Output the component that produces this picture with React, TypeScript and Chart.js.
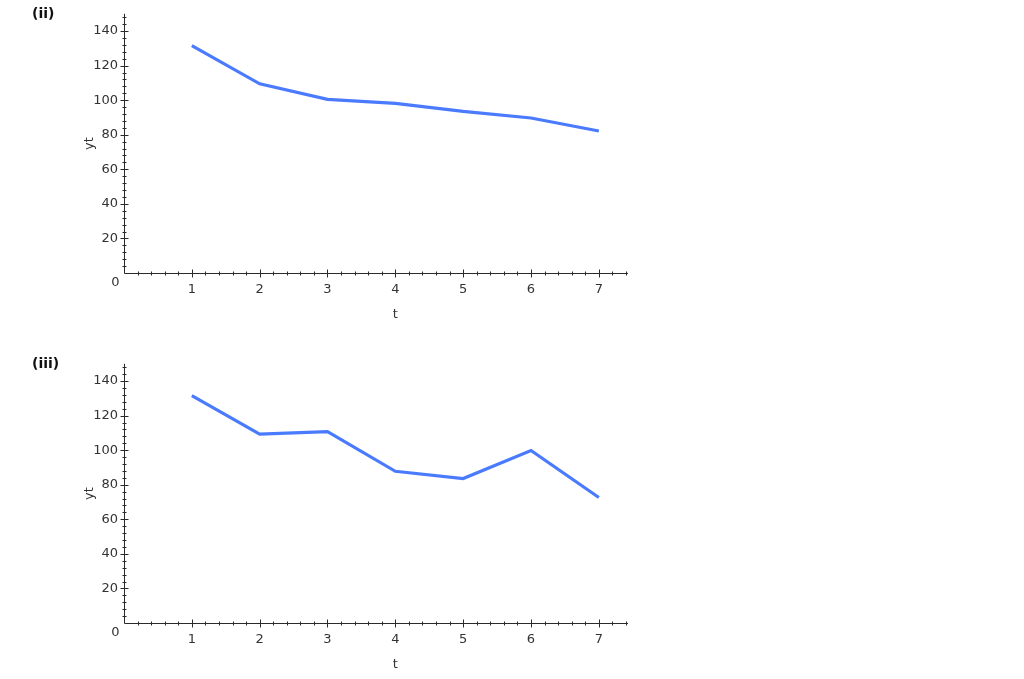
import React, { useEffect, useRef } from 'react';
import { Chart, registerables } from 'chart.js';

Chart.register(...registerables);

// ---- data ----
const tValues = [1, 2, 3, 4, 5, 6, 7];
const seriesII = [131.6, 109.5, 100.5, 98.2, 93.5, 89.7, 82.2];
const seriesIII = [131.6, 109.3, 110.8, 87.8, 83.6, 99.8, 72.6];
const xTickValues = [1, 2, 3, 4, 5, 6, 7];
const yTickValues = [20, 40, 60, 80, 100, 120, 140];
const panelLabels = ['(ii)', '(iii)'];
const xTitle = 't';
const yTitle = 'yt';
const X_MAX = 7.43;
const Y_MAX = 150;
const X_MINOR_STEP = 0.2;
const Y_MINOR_STEP = 4;

const FONT = '"DejaVu Sans", Verdana, sans-serif';
const AXIS_COLOR = '#2a2a2a';
const TEXT_COLOR = '#333333';
const LINE_COLOR = '#4a7bff';

const mapleAxes = {
  id: 'mapleAxes',
  afterDraw(chart: any) {
    const { ctx } = chart;
    const xs = chart.scales.x;
    const ys = chart.scales.y;
    const x0 = Math.round(xs.getPixelForValue(0)) + 0.5;
    const y0 = Math.round(ys.getPixelForValue(0)) + 0.5;
    const xEnd = xs.getPixelForValue(X_MAX);
    const yTop = ys.getPixelForValue(Y_MAX);
    ctx.save();
    ctx.strokeStyle = AXIS_COLOR;
    ctx.lineWidth = 1;
    const seg = (a: number, b: number, c: number, d: number) => {
      ctx.beginPath();
      ctx.moveTo(a, b);
      ctx.lineTo(c, d);
      ctx.stroke();
    };
    // axis lines
    seg(x0, y0, x0, yTop);
    seg(x0, y0, xEnd, y0);
    // y ticks
    for (let k = 1; k * Y_MINOR_STEP <= Y_MAX + 1e-9; k++) {
      const v = k * Y_MINOR_STEP;
      const py = Math.round(ys.getPixelForValue(v)) + 0.5;
      const major = yTickValues.includes(v);
      const h = major ? 4 : 2;
      seg(x0 - h, py, x0 + h, py);
    }
    // x ticks
    for (let k = 1; k * X_MINOR_STEP <= X_MAX + 1e-9; k++) {
      const v = Math.round(k * X_MINOR_STEP * 10) / 10;
      const px = Math.round(xs.getPixelForValue(v)) + 0.5;
      const major = xTickValues.includes(v);
      const h = major ? 4 : 2;
      seg(px, y0 - h, px, y0 + h);
    }
    // texts
    ctx.fillStyle = TEXT_COLOR;
    ctx.font = `13px ${FONT}`;
    ctx.textAlign = 'center';
    ctx.textBaseline = 'middle';
    ctx.fillText('0', x0 - 9, y0 + 9);
    ctx.fillText(xTitle, xs.getPixelForValue(4), y0 + 41);
    ctx.save();
    ctx.translate(x0 - 35, (y0 + yTop) / 2);
    ctx.rotate(-Math.PI / 2);
    ctx.fillText(yTitle, 0, 0);
    ctx.restore();
    ctx.restore();
  },
};

function Panel({ values, top, label }: { values: number[]; top: number; label: string }) {
  const ref = useRef<HTMLCanvasElement | null>(null);
  useEffect(() => {
    if (!ref.current) return;
    const chart = new Chart(ref.current, {
      type: 'line',
      data: {
        datasets: [
          {
            data: tValues.map((t, i) => ({ x: t, y: values[i] })),
            borderColor: LINE_COLOR,
            borderWidth: 3.2,
            pointRadius: 0,
            tension: 0,
            fill: false,
          },
        ],
      },
      options: {
        animation: false,
        responsive: false,
        devicePixelRatio: 1,
        layout: { padding: { left: 0, top: 11, right: 72, bottom: 0 } },
        plugins: { legend: { display: false }, tooltip: { enabled: false } },
        scales: {
          x: {
            type: 'linear',
            min: 0,
            max: X_MAX,
            grid: { display: false, drawTicks: false },
            border: { display: false },
            ticks: {
              padding: 9,
              autoSkip: false,
              maxRotation: 0,
              color: TEXT_COLOR,
              font: { family: FONT, size: 13 },
            },
            afterBuildTicks: (s: any) => {
              s.ticks = xTickValues.map((v) => ({ value: v }));
            },
            afterFit: (s: any) => {
              s.height = 67;
            },
          },
          y: {
            type: 'linear',
            min: 0,
            max: Y_MAX,
            grid: { display: false, drawTicks: false },
            border: { display: false },
            ticks: {
              padding: 6,
              autoSkip: false,
              color: TEXT_COLOR,
              font: { family: FONT, size: 13 },
            },
            afterBuildTicks: (s: any) => {
              s.ticks = yTickValues.map((v) => ({ value: v }));
            },
            afterFit: (s: any) => {
              s.width = 124;
            },
          },
        },
      },
      plugins: [mapleAxes],
    });
    return () => chart.destroy();
  }, [values]);
  return (
    <>
      <div
        style={{
          position: 'absolute',
          left: 32,
          top: top + 5,
          font: `bold 14px ${FONT}`,
          color: '#111',
          zIndex: 1,
        }}
      >
        {label}
      </div>
      <canvas
        ref={ref}
        width={700}
        height={340}
        style={{ position: 'absolute', left: 0, top, width: 700, height: 340 }}
      />
    </>
  );
}

export default function App() {
  return (
    <div
      style={{
        position: 'absolute',
        left: 0,
        top: 0,
        width: 1024,
        height: 679,
        background: '#fff',
        overflow: 'hidden',
      }}
    >
      <Panel values={seriesII} top={0} label={panelLabels[0]} />
      <Panel values={seriesIII} top={350} label={panelLabels[1]} />
    </div>
  );
}
